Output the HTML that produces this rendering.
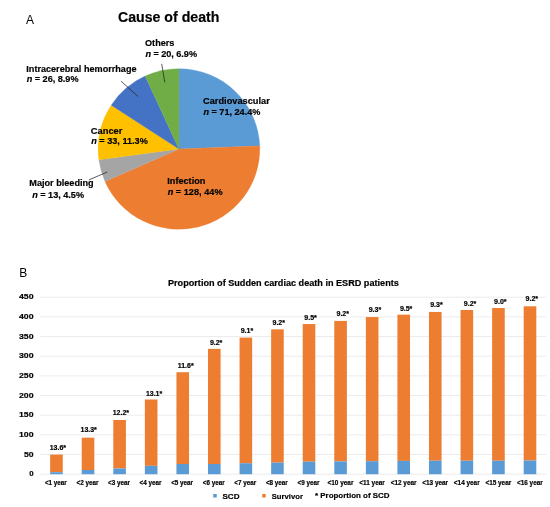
<!DOCTYPE html>
<html><head><meta charset="utf-8"><title>Cause of death / SCD</title>
<style>
html,body{margin:0;padding:0;background:#fff;}
svg{display:block;font-family:"Liberation Sans",Arial,sans-serif;}
.b{font-weight:bold;stroke:#000;stroke-width:0.18px;}
</style></head><body>
<svg width="550" height="507" viewBox="0 0 550 507">
<rect width="550" height="507" fill="#fff"/>

<g>
<path d="M178.95,149.0L178.95,68.70A80.85,80.3 0 0 1 259.74,145.97Z" fill="#5B9BD5" stroke="#5B9BD5" stroke-width="0.3"/>
<path d="M178.95,149.0L259.74,145.97A80.85,80.3 0 0 1 104.98,181.42Z" fill="#ED7D31" stroke="#ED7D31" stroke-width="0.3"/>
<path d="M178.95,149.0L104.98,181.42A80.85,80.3 0 0 1 98.84,159.80Z" fill="#A5A5A5" stroke="#A5A5A5" stroke-width="0.3"/>
<path d="M178.95,149.0L98.84,159.80A80.85,80.3 0 0 1 111.21,105.16Z" fill="#FFC000" stroke="#FFC000" stroke-width="0.3"/>
<path d="M178.95,149.0L111.21,105.16A80.85,80.3 0 0 1 145.11,76.07Z" fill="#4472C4" stroke="#4472C4" stroke-width="0.3"/>
<path d="M178.95,149.0L145.11,76.07A80.85,80.3 0 0 1 178.95,68.70Z" fill="#70AD47" stroke="#70AD47" stroke-width="0.3"/>
</g>
<line x1="161.7" y1="63.8" x2="164.8" y2="82.4" stroke="#262626" stroke-width="0.75"/>
<line x1="121.2" y1="81.3" x2="138.2" y2="96.6" stroke="#262626" stroke-width="0.75"/>
<line x1="88.9" y1="179.9" x2="107.3" y2="172.0" stroke="#262626" stroke-width="0.75"/>
<text x="26" y="23.8" font-size="12">A</text>
<text x="19.3" y="276.7" font-size="12">B</text>
<text class="b" x="118" y="21.8" font-size="14.15">Cause of death</text>
<text class="b" x="145.0" y="45.7" font-size="9.15">Others</text>
<text class="b" x="145.4" y="56.7" font-size="9.15" textLength="51.6" lengthAdjust="spacing"><tspan font-style="italic">n</tspan> = 20, 6.9%</text>
<text class="b" x="26.3" y="71.6" font-size="9.15" textLength="110.2" lengthAdjust="spacingAndGlyphs">Intracerebral hemorrhage</text>
<text class="b" x="26.7" y="82.3" font-size="9.15" textLength="51.8" lengthAdjust="spacing"><tspan font-style="italic">n</tspan> = 26, 8.9%</text>
<text class="b" x="203.0" y="103.6" font-size="9.15" textLength="66.8" lengthAdjust="spacingAndGlyphs">Cardiovascular</text>
<text class="b" x="203.4" y="115.0" font-size="9.15" textLength="57.0" lengthAdjust="spacing"><tspan font-style="italic">n</tspan> = 71, 24.4%</text>
<text class="b" x="90.8" y="133.8" font-size="9.15" textLength="31.6" lengthAdjust="spacingAndGlyphs">Cancer</text>
<text class="b" x="91.2" y="144.3" font-size="9.15" textLength="56.6" lengthAdjust="spacing"><tspan font-style="italic">n</tspan> = 33, 11.3%</text>
<text class="b" x="167.3" y="184.2" font-size="9.15">Infection</text>
<text class="b" x="167.70000000000002" y="195.0" font-size="9.15" textLength="54.8" lengthAdjust="spacing"><tspan font-style="italic">n</tspan> = 128, 44%</text>
<text class="b" x="29.3" y="186.4" font-size="9.15">Major bleeding</text>
<text class="b" x="32.2" y="197.5" font-size="9.15" textLength="51.8" lengthAdjust="spacing"><tspan font-style="italic">n</tspan> = 13, 4.5%</text>
<text class="b" x="168.0" y="286.2" font-size="9.12">Proportion of Sudden cardiac death in ESRD patients</text>
<line x1="40.2" y1="474.20" x2="546" y2="474.20" stroke="#E6E6E6" stroke-width="0.8"/>
<text class="b" x="33.6" y="476.20" font-size="7.8" text-anchor="end">0</text>
<line x1="40.2" y1="454.53" x2="546" y2="454.53" stroke="#E6E6E6" stroke-width="0.8"/>
<text class="b" x="33.6" y="456.53" font-size="7.8" text-anchor="end" textLength="9.6" lengthAdjust="spacingAndGlyphs">50</text>
<line x1="40.2" y1="434.87" x2="546" y2="434.87" stroke="#E6E6E6" stroke-width="0.8"/>
<text class="b" x="33.6" y="436.87" font-size="7.8" text-anchor="end" textLength="14.6" lengthAdjust="spacingAndGlyphs">100</text>
<line x1="40.2" y1="415.20" x2="546" y2="415.20" stroke="#E6E6E6" stroke-width="0.8"/>
<text class="b" x="33.6" y="417.20" font-size="7.8" text-anchor="end" textLength="14.6" lengthAdjust="spacingAndGlyphs">150</text>
<line x1="40.2" y1="395.54" x2="546" y2="395.54" stroke="#E6E6E6" stroke-width="0.8"/>
<text class="b" x="33.6" y="397.54" font-size="7.8" text-anchor="end" textLength="14.6" lengthAdjust="spacingAndGlyphs">200</text>
<line x1="40.2" y1="375.88" x2="546" y2="375.88" stroke="#E6E6E6" stroke-width="0.8"/>
<text class="b" x="33.6" y="377.88" font-size="7.8" text-anchor="end" textLength="14.6" lengthAdjust="spacingAndGlyphs">250</text>
<line x1="40.2" y1="356.21" x2="546" y2="356.21" stroke="#E6E6E6" stroke-width="0.8"/>
<text class="b" x="33.6" y="358.21" font-size="7.8" text-anchor="end" textLength="14.6" lengthAdjust="spacingAndGlyphs">300</text>
<line x1="40.2" y1="336.54" x2="546" y2="336.54" stroke="#E6E6E6" stroke-width="0.8"/>
<text class="b" x="33.6" y="338.54" font-size="7.8" text-anchor="end" textLength="14.6" lengthAdjust="spacingAndGlyphs">350</text>
<line x1="40.2" y1="316.88" x2="546" y2="316.88" stroke="#E6E6E6" stroke-width="0.8"/>
<text class="b" x="33.6" y="318.88" font-size="7.8" text-anchor="end" textLength="14.6" lengthAdjust="spacingAndGlyphs">400</text>
<line x1="40.2" y1="297.22" x2="546" y2="297.22" stroke="#E6E6E6" stroke-width="0.8"/>
<text class="b" x="33.6" y="299.22" font-size="7.8" text-anchor="end" textLength="14.6" lengthAdjust="spacingAndGlyphs">450</text>
<rect x="50.15" y="454.60" width="12.6" height="17.60" fill="#ED7D31"/>
<rect x="50.15" y="472.20" width="12.6" height="2.00" fill="#5B9BD5"/>
<text class="b" x="49.70" y="449.85" font-size="7">13.6*</text>
<text class="b" x="55.85" y="484.6" font-size="6.3" text-anchor="middle">&lt;1 year</text>
<rect x="81.72" y="437.65" width="12.6" height="32.35" fill="#ED7D31"/>
<rect x="81.72" y="470.00" width="12.6" height="4.20" fill="#5B9BD5"/>
<text class="b" x="80.50" y="432.10" font-size="7">13.3*</text>
<text class="b" x="87.42" y="484.6" font-size="6.3" text-anchor="middle">&lt;2 year</text>
<rect x="113.29" y="419.95" width="12.6" height="48.55" fill="#ED7D31"/>
<rect x="113.29" y="468.50" width="12.6" height="5.70" fill="#5B9BD5"/>
<text class="b" x="112.70" y="415.40" font-size="7">12.2*</text>
<text class="b" x="118.99" y="484.6" font-size="6.3" text-anchor="middle">&lt;3 year</text>
<rect x="144.86" y="399.50" width="12.6" height="66.30" fill="#ED7D31"/>
<rect x="144.86" y="465.80" width="12.6" height="8.40" fill="#5B9BD5"/>
<text class="b" x="145.90" y="395.70" font-size="7">13.1*</text>
<text class="b" x="150.56" y="484.6" font-size="6.3" text-anchor="middle">&lt;4 year</text>
<rect x="176.43" y="372.20" width="12.6" height="91.80" fill="#ED7D31"/>
<rect x="176.43" y="464.00" width="12.6" height="10.20" fill="#5B9BD5"/>
<text class="b" x="177.70" y="367.70" font-size="7">11.6*</text>
<text class="b" x="182.13" y="484.6" font-size="6.3" text-anchor="middle">&lt;5 year</text>
<rect x="208.00" y="348.85" width="12.6" height="115.15" fill="#ED7D31"/>
<rect x="208.00" y="464.00" width="12.6" height="10.20" fill="#5B9BD5"/>
<text class="b" x="209.90" y="344.90" font-size="7">9.2*</text>
<text class="b" x="213.70" y="484.6" font-size="6.3" text-anchor="middle">&lt;6 year</text>
<rect x="239.57" y="337.60" width="12.6" height="125.60" fill="#ED7D31"/>
<rect x="239.57" y="463.20" width="12.6" height="11.00" fill="#5B9BD5"/>
<text class="b" x="240.70" y="332.80" font-size="7">9.1*</text>
<text class="b" x="245.27" y="484.6" font-size="6.3" text-anchor="middle">&lt;7 year</text>
<rect x="271.14" y="329.35" width="12.6" height="133.25" fill="#ED7D31"/>
<rect x="271.14" y="462.60" width="12.6" height="11.60" fill="#5B9BD5"/>
<text class="b" x="272.50" y="325.10" font-size="7">9.2*</text>
<text class="b" x="276.84" y="484.6" font-size="6.3" text-anchor="middle">&lt;8 year</text>
<rect x="302.71" y="324.05" width="12.6" height="137.65" fill="#ED7D31"/>
<rect x="302.71" y="461.70" width="12.6" height="12.50" fill="#5B9BD5"/>
<text class="b" x="304.30" y="319.70" font-size="7">9.5*</text>
<text class="b" x="308.41" y="484.6" font-size="6.3" text-anchor="middle">&lt;9 year</text>
<rect x="334.28" y="320.90" width="12.6" height="140.50" fill="#ED7D31"/>
<rect x="334.28" y="461.40" width="12.6" height="12.80" fill="#5B9BD5"/>
<text class="b" x="336.50" y="316.00" font-size="7">9.2*</text>
<text class="b" x="340.48" y="484.6" font-size="6.42" text-anchor="middle">&lt;10 year</text>
<rect x="365.85" y="317.05" width="12.6" height="144.15" fill="#ED7D31"/>
<rect x="365.85" y="461.20" width="12.6" height="13.00" fill="#5B9BD5"/>
<text class="b" x="368.70" y="312.40" font-size="7">9.3*</text>
<text class="b" x="372.05" y="484.6" font-size="6.42" text-anchor="middle">&lt;11 year</text>
<rect x="397.42" y="314.65" width="12.6" height="146.25" fill="#ED7D31"/>
<rect x="397.42" y="460.90" width="12.6" height="13.30" fill="#5B9BD5"/>
<text class="b" x="399.90" y="310.70" font-size="7">9.5*</text>
<text class="b" x="403.62" y="484.6" font-size="6.42" text-anchor="middle">&lt;12 year</text>
<rect x="428.99" y="311.95" width="12.6" height="148.75" fill="#ED7D31"/>
<rect x="428.99" y="460.70" width="12.6" height="13.50" fill="#5B9BD5"/>
<text class="b" x="430.20" y="306.80" font-size="7">9.3*</text>
<text class="b" x="435.19" y="484.6" font-size="6.42" text-anchor="middle">&lt;13 year</text>
<rect x="460.56" y="310.00" width="12.6" height="150.70" fill="#ED7D31"/>
<rect x="460.56" y="460.70" width="12.6" height="13.50" fill="#5B9BD5"/>
<text class="b" x="463.80" y="305.50" font-size="7">9.2*</text>
<text class="b" x="466.76" y="484.6" font-size="6.42" text-anchor="middle">&lt;14 year</text>
<rect x="492.13" y="308.00" width="12.6" height="152.70" fill="#ED7D31"/>
<rect x="492.13" y="460.70" width="12.6" height="13.50" fill="#5B9BD5"/>
<text class="b" x="494.10" y="304.20" font-size="7">9.0*</text>
<text class="b" x="498.33" y="484.6" font-size="6.42" text-anchor="middle">&lt;15 year</text>
<rect x="523.70" y="306.30" width="12.6" height="154.20" fill="#ED7D31"/>
<rect x="523.70" y="460.50" width="12.6" height="13.70" fill="#5B9BD5"/>
<text class="b" x="525.60" y="301.40" font-size="7">9.2*</text>
<text class="b" x="529.90" y="484.6" font-size="6.42" text-anchor="middle">&lt;16 year</text>
<rect x="213.2" y="494" width="3.5" height="3.5" fill="#5B9BD5"/>
<text class="b" x="222.4" y="498.7" font-size="8.1">SCD</text>
<rect x="262.2" y="494" width="3.5" height="3.5" fill="#ED7D31"/>
<text class="b" x="271.7" y="498.7" font-size="8.1" textLength="31.2" lengthAdjust="spacingAndGlyphs">Survivor</text>
<text class="b" x="315.0" y="498.2" font-size="7.95">* Proportion of SCD</text>
</svg></body></html>
